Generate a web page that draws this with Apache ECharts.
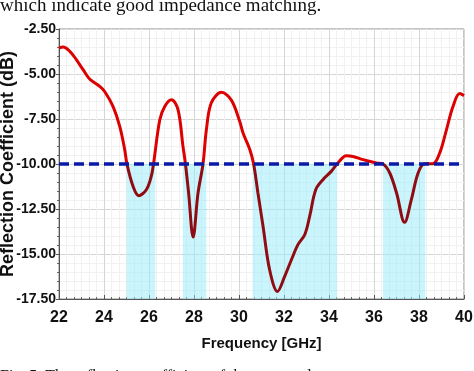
<!DOCTYPE html>
<html>
<head>
<meta charset="utf-8">
<script src="https://cdn.jsdelivr.net/npm/echarts@6/dist/echarts.min.js"></script>
<style>
html,body{margin:0;padding:0;background:#fff;}
#chart{width:474px;height:371px;}
</style>
</head>
<body>
<div id="chart"></div>
<script>
// Frequency (GHz)
const freq = [22, 22.18, 22.48, 22.77, 23.07, 23.36, 23.81, 24.03, 24.4, 24.7, 24.92, 25.02, 25.29, 25.54, 25.88, 26.1, 26.2, 26.48, 26.7, 27.0, 27.29, 27.51, 27.62, 27.76, 27.96, 28.18, 28.4, 28.55, 28.77, 29.22, 29.66, 30.03, 30.18, 30.48, 30.65, 30.84, 31.07, 31.36, 31.71, 32.03, 32.33, 32.62, 32.92, 33.14, 33.41, 33.73, 34.1, 34.36, 34.77, 35.07, 35.51, 36.1, 36.4, 36.7, 37.0, 37.36, 37.66, 37.96, 38.25, 38.62, 38.92, 39.22, 39.51, 39.81, 40];
// Reflection coefficient (dB)
const s11 = [-3.56, -3.5, -3.74, -4.2, -4.76, -5.28, -5.69, -5.97, -6.8, -7.91, -9.2, -10.0, -11.24, -11.76, -11.43, -10.69, -10.0, -7.54, -6.8, -6.43, -6.98, -9.02, -10.0, -11.6, -14.06, -11.6, -10.0, -8.1, -6.6, -6.02, -6.45, -7.63, -8.28, -9.2, -10.0, -11.6, -13.47, -15.87, -17.08, -16.24, -15.32, -14.48, -13.93, -12.91, -11.43, -10.87, -10.41, -10.0, -9.54, -9.58, -9.76, -9.94, -10.0, -10.5, -11.6, -13.24, -11.98, -10.5, -9.98, -9.98, -9.39, -8.1, -6.8, -6.09, -6.2];
// -10 dB reference level
const threshold = -10;
// Matched bands (GHz): start / end
const bandStart = [25.0, 27.5, 30.6, 36.4];
const bandEnd = [26.28, 28.55, 34.36, 38.28];
// Axis ticks
const xTicks = [22, 24, 26, 28, 30, 32, 34, 36, 38, 40];
const yTicks = [-17.5, -15, -12.5, -10, -7.5, -5, -2.5];
const topText = 'which indicate good impedance matching.';
const captionText = 'Fig. 5. The reflection coefficient of the proposed antenna.';

const curve = freq.map((f, i) => [f, s11[i]]);
const bandAreas = bandStart.map((s, i) => [
  { xAxis: s, yAxis: threshold },
  { xAxis: bandEnd[i], yAxis: yTicks[0] }
]);

const sans = "'Liberation Sans', Arial, sans-serif";
const serif = "'Liberation Serif', 'Times New Roman', serif";
const H = 371;

const chart = echarts.init(document.getElementById('chart'), null, { renderer: 'canvas' });
chart.setOption({
  animation: false,
  backgroundColor: '#fff',
  grid: {
    left: 59, top: 29, width: 405, height: 270,
    outerBoundsMode: 'none', containLabel: false,
    show: true, borderColor: '#8a8a8a', borderWidth: 1, backgroundColor: 'transparent'
  },
  xAxis: {
    type: 'value',
    min: xTicks[0], max: xTicks[xTicks.length - 1], interval: 2,
    name: 'Frequency [GHz]', nameLocation: 'middle', nameGap: 37, nameMoveOverlap: false,
    nameTextStyle: { fontFamily: sans, fontWeight: 'bold', fontSize: 15, color: '#111' },
    axisLine: { show: true, onZero: false, lineStyle: { color: '#555', width: 1 } },
    axisTick: { show: true, inside: true, length: 4, lineStyle: { color: '#555' } },
    minorTick: { show: true, splitNumber: 6, length: 2, lineStyle: { color: '#666' } },
    axisLabel: { margin: 11, fontFamily: sans, fontWeight: 'bold', fontSize: 16, color: '#111' },
    splitLine: { show: true, lineStyle: { color: '#d6d6d6', width: 1 } },
    minorSplitLine: { show: true, lineStyle: { color: '#f1f1f1', width: 1 } }
  },
  yAxis: {
    type: 'value',
    min: yTicks[0], max: yTicks[yTicks.length - 1], interval: 2.5,
    name: 'Reflection Coefficient (dB)', nameLocation: 'middle', nameGap: 42, nameMoveOverlap: false,
    nameTextStyle: { fontFamily: sans, fontWeight: 'bold', fontSize: 18, color: '#111' },
    axisLine: { show: true, onZero: false, lineStyle: { color: '#555', width: 1 } },
    axisTick: { show: true, inside: false, length: 3, lineStyle: { color: '#555' } },
    minorTick: { show: true, splitNumber: 5, length: 2, lineStyle: { color: '#666' } },
    axisLabel: { margin: 3, fontFamily: sans, fontWeight: 'bold', fontSize: 14, color: '#111',
      formatter: v => v.toFixed(2) },
    splitLine: { show: true, lineStyle: { color: '#d6d6d6', width: 1 } },
    minorSplitLine: { show: true, lineStyle: { color: '#f1f1f1', width: 1 } }
  },
  series: [
    {
      id: 'curve',
      type: 'line', data: curve, smooth: 0.35, symbol: 'none', z: 3,
      lineStyle: { width: 3, color: '#dc0000' },
      markArea: {
        silent: true,
        itemStyle: { color: 'rgba(150,235,250,0.5)' },
        data: bandAreas
      }
    },
    {
      type: 'line', data: [[xTicks[0], threshold], [xTicks[xTicks.length - 1], threshold]],
      symbol: 'none', z: 4,
      lineStyle: { color: '#0a1aa6', width: 3.5, type: [10, 5] }
    }
  ],
  graphic: [
    { type: 'text', left: 0, top: -3, silent: true,
      style: { text: topText, fontFamily: serif, fontSize: 19, fill: '#111' } },
    { type: 'text', x: 0, y: 385, silent: true,
      style: { text: captionText, fontFamily: serif, fontSize: 16, fill: '#111', verticalAlign: 'bottom' } }
  ]
});

// colour the curve darker where it lies below the -10 dB level
const yPix = chart.convertToPixel({ yAxisIndex: 0 }, threshold);
const off = Math.min(1, Math.max(0, yPix / H));
chart.setOption({
  series: [{
    id: 'curve',
    lineStyle: {
      color: new echarts.graphic.LinearGradient(0, 0, 0, H, [
        { offset: 0, color: '#dc0000' },
        { offset: off, color: '#dc0000' },
        { offset: off, color: '#8f0d12' },
        { offset: 1, color: '#8f0d12' }
      ], true)
    }
  }]
});
</script>
</body>
</html>
